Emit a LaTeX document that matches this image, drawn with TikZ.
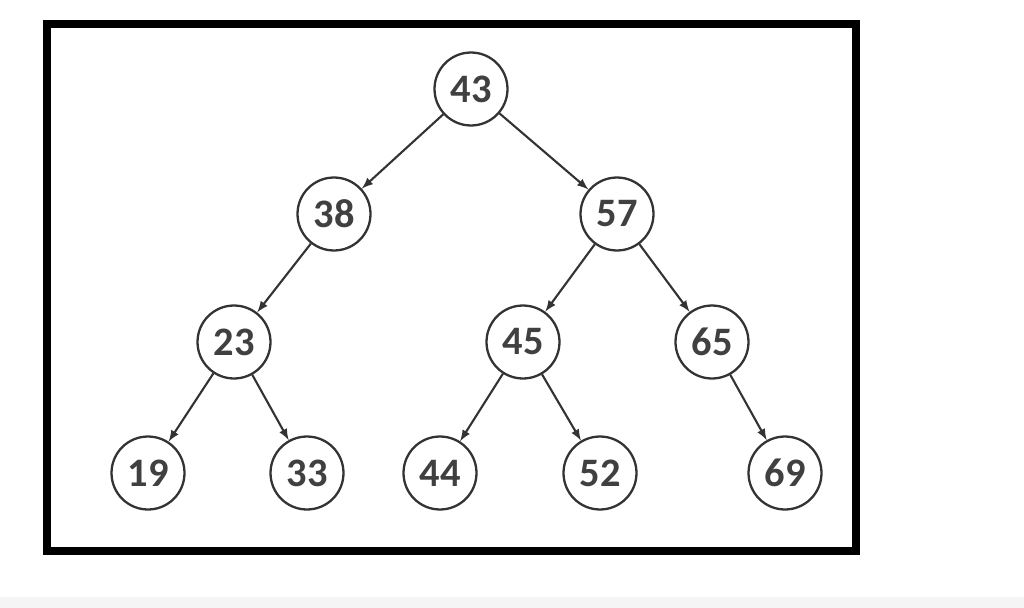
\documentclass[tikz,border=0pt]{standalone}
\usepackage{fontspec}
\setmainfont{Carlito}
\begin{document}
\begin{tikzpicture}[x=0.02cm,y=-0.02cm,
  nd/.style={circle,draw=black!80,line width=1.3pt,minimum size=1.46cm,inner sep=0pt,fill=white,text=black!75,font=\fontsize{23}{26}\selectfont\bfseries},
  ed/.style={draw=black!80,line width=1.2pt,-latex}]
\useasboundingbox (0,0) rectangle (1024,608);
\fill[black!4] (0,597) rectangle (1024,608);
\draw[line width=5pt] (47,24) rectangle (856,551);
\node[nd] (n43) at (471,89) {43};
\node[nd] (n38) at (334,214) {38};
\node[nd] (n57) at (617,214) {57};
\node[nd] (n23) at (234,342) {23};
\node[nd] (n45) at (523,342) {45};
\node[nd] (n65) at (712,342) {65};
\node[nd] (n19) at (148,473) {19};
\node[nd] (n33) at (307,473) {33};
\node[nd] (n44) at (440,473) {44};
\node[nd] (n52) at (600,473) {52};
\node[nd] (n69) at (785,473) {69};
\foreach \a/\b in {43/38,43/57,38/23,57/45,57/65,23/19,23/33,45/44,45/52,65/69}
  \draw[ed] (n\a) -- (n\b);
\end{tikzpicture}
\end{document}
